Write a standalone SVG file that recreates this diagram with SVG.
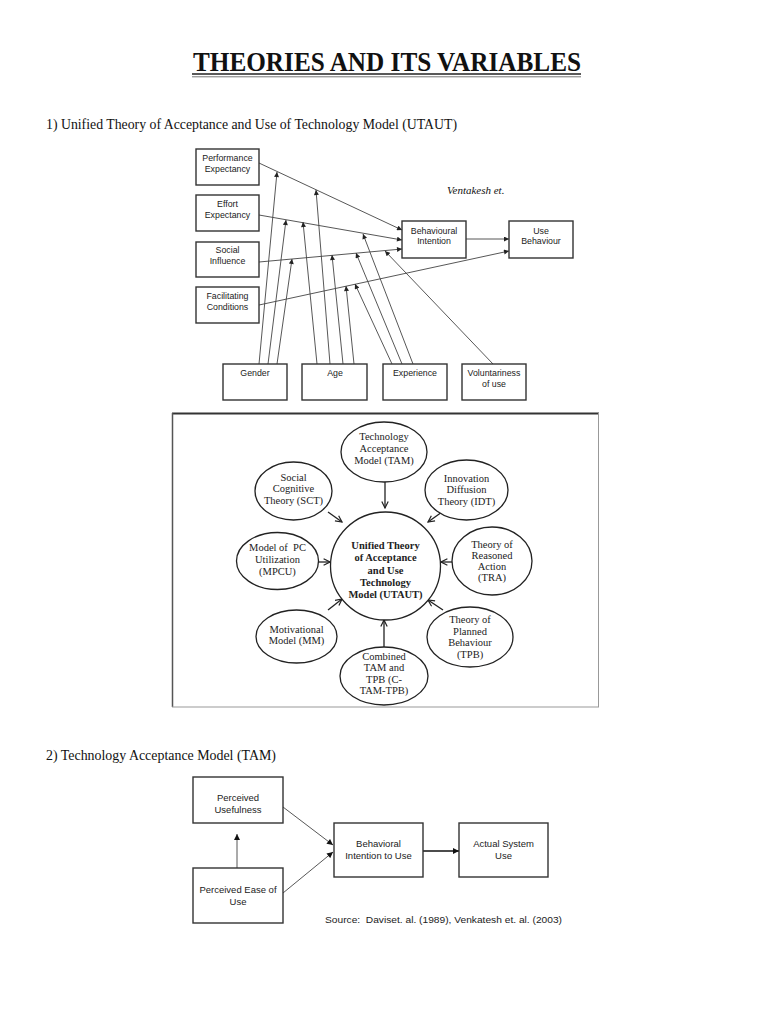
<svg xmlns="http://www.w3.org/2000/svg" width="768" height="1024" viewBox="0 0 768 1024">
<style>
.t{font-family:"Liberation Serif","Times New Roman",serif;fill:#111}
.s{font-family:"Liberation Sans",Arial,sans-serif;fill:#222;font-size:8.8px;text-anchor:middle}
.ts{font-family:"Liberation Sans",Arial,sans-serif;fill:#222;font-size:9.5px;text-anchor:middle}
.e{font-family:"Liberation Serif","Times New Roman",serif;fill:#222;font-size:10.5px;text-anchor:middle}
.box{fill:#fff;stroke:#333;stroke-width:1.4}
.ln{fill:none;stroke:#444;stroke-width:0.9}
.el{fill:#fff;stroke:#222;stroke-width:1.3}
.cl{fill:none;stroke:#222;stroke-width:1.3}
</style>
<defs>
<marker id="ah" viewBox="0 0 10 10" refX="10" refY="5" markerWidth="6" markerHeight="5" markerUnits="userSpaceOnUse" orient="auto"><path d="M0,0 L10,5 L0,10 z" fill="#222"/></marker>
<marker id="va" viewBox="0 0 10 10" refX="9" refY="5" markerWidth="8" markerHeight="8" markerUnits="userSpaceOnUse" orient="auto"><path d="M1,1 L9,5 L1,9" fill="none" stroke="#222" stroke-width="1.5"/></marker>
<marker id="ta" viewBox="0 0 10 10" refX="10" refY="5" markerWidth="7" markerHeight="6" markerUnits="userSpaceOnUse" orient="auto"><path d="M0,0 L10,5 L0,10 z" fill="#111"/></marker>
</defs>
<rect width="768" height="1024" fill="#fff"/>

<g id="title">
<text class="t" x="387" y="71" font-size="26.5" font-weight="bold" text-anchor="middle" textLength="388" lengthAdjust="spacingAndGlyphs">THEORIES AND ITS VARIABLES</text>
<line x1="192" y1="74" x2="581" y2="74" stroke="#222" stroke-width="1.6"/>
<line x1="192" y1="76.8" x2="581" y2="76.8" stroke="#777" stroke-width="1"/>
</g>
<text id="heading1" class="t" x="46" y="129" font-size="13.7" textLength="411" lengthAdjust="spacingAndGlyphs">1) Unified Theory of Acceptance and Use of Technology Model (UTAUT)</text>

<!-- UTAUT diagram -->
<g id="utaut-connectors">
<line class="ln" x1="259" y1="163" x2="402" y2="230" marker-end="url(#ah)"/>
<line class="ln" x1="259" y1="215" x2="402" y2="240" marker-end="url(#ah)"/>
<line class="ln" x1="259" y1="262" x2="402" y2="249" marker-end="url(#ah)"/>
<line class="ln" x1="259" y1="305" x2="509" y2="251" marker-end="url(#ah)"/>
<line class="ln" x1="466" y1="239" x2="509" y2="239" marker-end="url(#ah)"/>
<line class="ln" x1="259" y1="364" x2="277" y2="172" marker-end="url(#ah)"/>
<line class="ln" x1="268" y1="364" x2="286" y2="220" marker-end="url(#ah)"/>
<line class="ln" x1="277" y1="364" x2="292" y2="259" marker-end="url(#ah)"/>
<line class="ln" x1="317" y1="364" x2="303" y2="222" marker-end="url(#ah)"/>
<line class="ln" x1="330" y1="364" x2="316" y2="190" marker-end="url(#ah)"/>
<line class="ln" x1="343" y1="364" x2="332" y2="255" marker-end="url(#ah)"/>
<line class="ln" x1="354" y1="364" x2="346" y2="286" marker-end="url(#ah)"/>
<line class="ln" x1="392" y1="364" x2="355" y2="284" marker-end="url(#ah)"/>
<line class="ln" x1="402" y1="364" x2="356" y2="253" marker-end="url(#ah)"/>
<line class="ln" x1="413" y1="364" x2="363" y2="234" marker-end="url(#ah)"/>
<line class="ln" x1="493" y1="364" x2="385" y2="251" marker-end="url(#ah)"/>
</g>
<g id="pe"><rect class="box" x="196" y="149" width="63" height="36"/><text class="s" x="227.5" y="161">Performance</text><text class="s" x="227.5" y="172">Expectancy</text></g>
<g id="ee"><rect class="box" x="196" y="195" width="63" height="36"/><text class="s" x="227.5" y="207">Effort</text><text class="s" x="227.5" y="218">Expectancy</text></g>
<g id="si"><rect class="box" x="196" y="242" width="63" height="35"/><text class="s" x="227.5" y="253">Social</text><text class="s" x="227.5" y="264">Influence</text></g>
<g id="fc"><rect class="box" x="196" y="287" width="63" height="36"/><text class="s" x="227.5" y="299">Facilitating</text><text class="s" x="227.5" y="310">Conditions</text></g>
<g id="bi"><rect class="box" x="402" y="221" width="64" height="37"/><text class="s" x="434" y="234">Behavioural</text><text class="s" x="434" y="244">Intention</text></g>
<g id="ub"><rect class="box" x="509" y="221" width="64" height="37"/><text class="s" x="541" y="234">Use</text><text class="s" x="541" y="244">Behaviour</text></g>
<g id="gender"><rect class="box" x="223" y="364" width="64" height="36"/><text class="s" x="255" y="376">Gender</text></g>
<g id="age"><rect class="box" x="302" y="364" width="65" height="36"/><text class="s" x="335" y="376">Age</text></g>
<g id="experience"><rect class="box" x="383" y="364" width="64" height="36"/><text class="s" x="415" y="376">Experience</text></g>
<g id="voluntariness"><rect class="box" x="462" y="364" width="64" height="36"/><text class="s" x="494" y="376">Voluntariness</text><text class="s" x="494" y="387">of use</text></g>
<text id="ventakesh" class="t" x="447" y="194" font-size="11" font-style="italic">Ventakesh et.</text>

<!-- Circle diagram -->
<g id="frame">
<line x1="172" y1="413.5" x2="599" y2="413.5" stroke="#333" stroke-width="2"/>
<line x1="172.5" y1="413" x2="172.5" y2="707" stroke="#555" stroke-width="1.5"/>
<line x1="598.5" y1="413" x2="598.5" y2="707" stroke="#999" stroke-width="1"/>
<line x1="172" y1="707" x2="599" y2="707" stroke="#999" stroke-width="1.2"/>
</g>
<g id="circle-connectors">
<line class="cl" x1="385" y1="482" x2="385" y2="508" marker-end="url(#va)"/>
<line class="cl" x1="328" y1="512" x2="342" y2="522" marker-end="url(#va)"/>
<line class="cl" x1="442" y1="512" x2="428" y2="522" marker-end="url(#va)"/>
<line class="cl" x1="318" y1="562" x2="330" y2="562" marker-end="url(#va)"/>
<line class="cl" x1="453" y1="562" x2="441" y2="562" marker-end="url(#va)"/>
<line class="cl" x1="328" y1="610" x2="342" y2="599" marker-end="url(#va)"/>
<line class="cl" x1="443" y1="610" x2="428" y2="600" marker-end="url(#va)"/>
<line class="cl" x1="384" y1="647" x2="384" y2="620" marker-end="url(#va)"/>
</g>
<g id="utaut-center"><ellipse class="el" cx="385.5" cy="566" rx="55" ry="54"/>
<text class="e" font-weight="bold" x="385.5" y="549">Unified Theory</text>
<text class="e" font-weight="bold" x="385.5" y="561">of Acceptance</text>
<text class="e" font-weight="bold" x="385.5" y="574">and Use</text>
<text class="e" font-weight="bold" x="385.5" y="586">Technology</text>
<text class="e" font-weight="bold" x="385.5" y="598">Model (UTAUT)</text></g>
<g id="tam-node"><ellipse class="el" cx="384" cy="452" rx="43" ry="30"/>
<text class="e" x="384" y="440">Technology</text><text class="e" x="384" y="452">Acceptance</text><text class="e" x="384" y="464">Model (TAM)</text></g>
<g id="sct"><ellipse class="el" cx="293.5" cy="491" rx="38.5" ry="29"/>
<text class="e" x="293.5" y="481">Social</text><text class="e" x="293.5" y="492">Cognitive</text><text class="e" x="293.5" y="504">Theory (SCT)</text></g>
<g id="idt"><ellipse class="el" cx="466.5" cy="490" rx="41.5" ry="30"/>
<text class="e" x="466.5" y="482">Innovation</text><text class="e" x="466.5" y="493">Diffusion</text><text class="e" x="466.5" y="505">Theory (IDT)</text></g>
<g id="mpcu"><ellipse class="el" cx="277.5" cy="561" rx="41" ry="28.5"/>
<text class="e" x="277.5" y="551" xml:space="preserve">Model of  PC</text><text class="e" x="277.5" y="563">Utilization</text><text class="e" x="277.5" y="575">(MPCU)</text></g>
<g id="tra"><ellipse class="el" cx="492" cy="561" rx="40" ry="34"/>
<text class="e" x="492" y="548">Theory of</text><text class="e" x="492" y="559">Reasoned</text><text class="e" x="492" y="570">Action</text><text class="e" x="492" y="581">(TRA)</text></g>
<g id="mm"><ellipse class="el" cx="296.5" cy="636.5" rx="40.5" ry="26.5"/>
<text class="e" x="296.5" y="633">Motivational</text><text class="e" x="296.5" y="644">Model (MM)</text></g>
<g id="tpb"><ellipse class="el" cx="470" cy="637" rx="43" ry="30"/>
<text class="e" x="470" y="623">Theory of</text><text class="e" x="470" y="635">Planned</text><text class="e" x="470" y="646">Behaviour</text><text class="e" x="470" y="658">(TPB)</text></g>
<g id="ctam"><ellipse class="el" cx="384" cy="676" rx="44" ry="29"/>
<text class="e" x="384" y="660">Combined</text><text class="e" x="384" y="671">TAM and</text><text class="e" x="384" y="683">TPB (C-</text><text class="e" x="384" y="694">TAM-TPB)</text></g>

<text id="heading2" class="t" x="46" y="760" font-size="13.7" textLength="230" lengthAdjust="spacingAndGlyphs">2) Technology Acceptance Model (TAM)</text>

<!-- TAM diagram -->
<g id="tam-connectors">
<line class="ln" x1="237" y1="868" x2="237" y2="834" marker-end="url(#ta)"/>
<line class="ln" x1="283" y1="807" x2="333" y2="845" marker-end="url(#ta)"/>
<line class="ln" x1="283" y1="893" x2="333" y2="852" marker-end="url(#ta)"/>
<line x1="423" y1="851" x2="459" y2="851" stroke="#111" stroke-width="1.3" marker-end="url(#ta)"/>
</g>
<g id="pu"><rect class="box" x="193" y="777" width="90" height="46"/><text class="ts" x="238" y="801">Perceived</text><text class="ts" x="238" y="813">Usefulness</text></g>
<g id="peou"><rect class="box" x="193" y="868" width="90" height="55"/><text class="ts" x="238" y="893">Perceived Ease of</text><text class="ts" x="238" y="905">Use</text></g>
<g id="bitu"><rect class="box" x="334" y="823" width="89" height="54"/><text class="ts" x="378.5" y="847">Behavioral</text><text class="ts" x="378.5" y="859">Intention to Use</text></g>
<g id="asu"><rect class="box" x="459" y="823" width="89" height="54"/><text class="ts" x="503.5" y="847">Actual System</text><text class="ts" x="503.5" y="859">Use</text></g>
<text id="source" class="ts" x="443.5" y="923" xml:space="preserve" textLength="237" lengthAdjust="spacingAndGlyphs">Source:  Daviset. al. (1989), Venkatesh et. al. (2003)</text>
</svg>
